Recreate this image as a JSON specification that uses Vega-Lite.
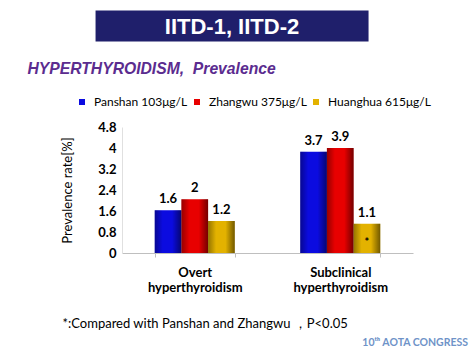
{
  "$schema": "https://vega.github.io/schema/vega-lite/v6.json",
  "width": 291,
  "height": 126,
  "autosize": {"type": "none"},
  "padding": {"left": 122, "top": 127, "right": 61, "bottom": 102},
  "background": "white",
  "title": {"text": "10ᵗʰ AOTA CONGRESS", "orient": "bottom", "anchor": "end", "frame": "group", "dx": 55, "offset": 8, "fontSize": 10.5, "font": "Lato", "fontWeight": "bold", "color": "#6f93c8"},
  "data": {
    "values": [
      {"cat": "Overt hyperthyroidism", "grp": "Panshan 103μg/L", "val": 1.63, "lbl": "1.6", "star": ""},
      {"cat": "Overt hyperthyroidism", "grp": "Zhangwu 375μg/L", "val": 2.05, "lbl": "2", "star": ""},
      {"cat": "Overt hyperthyroidism", "grp": "Huanghua 615μg/L", "val": 1.22, "lbl": "1.2", "star": ""},
      {"cat": "Subclinical hyperthyroidism", "grp": "Panshan 103μg/L", "val": 3.86, "lbl": "3.7", "star": ""},
      {"cat": "Subclinical hyperthyroidism", "grp": "Zhangwu 375μg/L", "val": 4.0, "lbl": "3.9", "star": ""},
      {"cat": "Subclinical hyperthyroidism", "grp": "Huanghua 615μg/L", "val": 1.11, "lbl": "1.1", "star": "*"}
    ]
  },
  "layer": [
    {
      "mark": {"type": "bar"},
      "encoding": {
        "x": {"field": "cat", "type": "nominal", "sort": ["Overt hyperthyroidism", "Subclinical hyperthyroidism"],
          "scale": {"paddingInner": 0.45, "paddingOuter": 0.225},
          "axis": {"orient": "bottom", "labelExpr": "isString(datum.value) ? split(datum.value, ' ') : ''", "labelAngle": 0, "labelFont": "Lato", "labelFontWeight": "bold", "labelFontSize": 13, "labelColor": "black", "labelPadding": 9, "labelLineHeight": 15, "domainColor": "#bfbfbf", "tickColor": "#bfbfbf", "tickSize": 4, "tickBand": "extent",
            "title": "*:Compared with Panshan and Zhangwu ，P<0.05", "titleX": -60, "titleY": 70, "titleAlign": "left", "titleBaseline": "middle", "titleFont": "Lato", "titleFontWeight": "normal", "titleFontSize": 13, "titleColor": "black"}},
        "xOffset": {"field": "grp", "type": "nominal", "sort": ["Panshan 103μg/L", "Zhangwu 375μg/L", "Huanghua 615μg/L"], "scale": {"paddingInner": 0, "paddingOuter": 0}},
        "y": {"field": "val", "type": "quantitative", "scale": {"domain": [0, 4.8], "nice": false},
          "axis": {"values": [0, 0.8, 1.6, 2.4, 3.2, 4, 4.8], "format": "~g", "labelFont": "Lato", "labelFontWeight": "bold", "labelFontSize": 13, "labelColor": "black", "labelPadding": 6, "ticks": false, "domainColor": "#e0e0e0",
            "title": "Prevalence rate[%]", "titleX": -55, "titleY": 63, "titleBaseline": "middle", "titleAlign": "center", "titleFont": "Lato", "titleFontWeight": "normal", "titleFontSize": 13, "titleColor": "black"}},
        "color": {"field": "grp", "type": "nominal", "sort": ["Panshan 103μg/L", "Zhangwu 375μg/L", "Huanghua 615μg/L"],
          "scale": {"range": ["#0b0be0", "#e80000", "#e3b200"]},
          "legend": {"orient": "none", "direction": "horizontal", "legendX": -46, "legendY": -31, "title": null, "symbolType": "square", "symbolSize": 36, "labelFont": "Lato", "labelFontSize": 12, "labelColor": "black", "columnPadding": 3, "labelOffset": 6, "symbolStrokeWidth": 0}}
      }
    },
    {
      "mark": {"type": "bar", "fill": {"gradient": "linear", "x1": 0, "y1": 0, "x2": 1, "y2": 0, "stops": [{"offset": 0, "color": "rgba(0,0,0,0.35)"}, {"offset": 0.3, "color": "rgba(0,0,0,0)"}, {"offset": 0.65, "color": "rgba(0,0,0,0)"}, {"offset": 1, "color": "rgba(0,0,0,0.5)"}]}},
      "encoding": {
        "x": {"field": "cat", "type": "nominal", "sort": ["Overt hyperthyroidism", "Subclinical hyperthyroidism"], "axis": null},
        "xOffset": {"field": "grp", "type": "nominal", "sort": ["Panshan 103μg/L", "Zhangwu 375μg/L", "Huanghua 615μg/L"]},
        "y": {"field": "val", "type": "quantitative", "axis": null}
      }
    },
    {
      "mark": {"type": "text", "baseline": "bottom", "dy": -4, "font": "Lato", "fontWeight": "bold", "fontSize": 13, "color": "black"},
      "encoding": {
        "x": {"field": "cat", "type": "nominal", "sort": ["Overt hyperthyroidism", "Subclinical hyperthyroidism"],
          "axis": {"orient": "top", "values": ["Overt hyperthyroidism"], "labels": false, "domain": false, "ticks": true, "tickColor": "#1f1f6b", "tickWidth": 273, "tickSize": 31, "tickOffset": 36.8, "tickCap": "butt", "tickRound": false, "offset": 86,
            "title": "IITD-1, IITD-2", "titleX": 109.5, "titleY": -15, "titleAlign": "center", "titleBaseline": "middle", "titleFont": "Liberation Sans", "titleFontSize": 22, "titleFontWeight": "bold", "titleColor": "white"}},
        "xOffset": {"field": "grp", "type": "nominal", "sort": ["Panshan 103μg/L", "Zhangwu 375μg/L", "Huanghua 615μg/L"]},
        "y": {"field": "val", "type": "quantitative",
          "axis": {"orient": "right", "labels": false, "ticks": false, "domain": false,
            "title": "HYPERTHYROIDISM,\u00a0 Prevalence", "titleAngle": 0, "titleX": -386, "titleY": -59, "titleAlign": "left", "titleBaseline": "middle", "titleFont": "Liberation Sans", "titleFontStyle": "italic", "titleFontWeight": "bold", "titleFontSize": 15.7, "titleColor": "#5b2c8f"}},
        "text": {"field": "lbl"}
      }
    },
    {
      "transform": [{"filter": "datum.star == '*'"}],
      "mark": {"type": "text", "baseline": "middle", "fontSize": 11, "font": "Lato", "fontWeight": "bold", "color": "black"},
      "encoding": {
        "x": {"field": "cat", "type": "nominal", "sort": ["Overt hyperthyroidism", "Subclinical hyperthyroidism"], "axis": null},
        "xOffset": {"field": "grp", "type": "nominal", "sort": ["Panshan 103μg/L", "Zhangwu 375μg/L", "Huanghua 615μg/L"]},
        "y": {"datum": 0.4, "type": "quantitative", "axis": null},
        "text": {"field": "star"}
      }
    }
  ],
  "resolve": {"axis": {"x": "independent", "y": "independent"}},
  "config": {"view": {"stroke": null}, "axis": {"grid": false}}
}
